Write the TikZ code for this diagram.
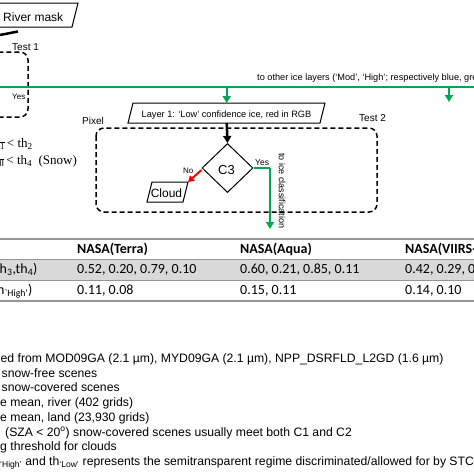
\documentclass[tikz,border=0pt]{standalone}
\usepackage{fontspec}
\setmainfont{Liberation Sans}
\newfontfamily\tabfont{Carlito}
\newfontfamily\serf{Liberation Serif}
\usetikzlibrary{shapes.geometric,arrows.meta}
\definecolor{grn}{RGB}{0,168,80}
\definecolor{rulegray}{RGB}{150,150,150}
\definecolor{rowgray}{RGB}{217,217,217}
\newcommand\fsz[1]{\fontsize{#1}{#1}\selectfont}
\begin{document}
\begin{tikzpicture}[x=1pt,y=-1pt,
  lbl/.style={inner sep=0pt, anchor=base west},
  lblc/.style={inner sep=0pt, anchor=base},
  shapebox/.style={draw=black, line width=1pt},
  dbox/.style={draw=black, line width=1.5pt, dash pattern=on 5pt off 3pt, rounded corners=8pt},
  garrow/.style={draw=grn, line width=2pt, -{Triangle[length=7pt,width=8pt]}},
  barrow/.style={draw=black, line width=2.5pt, -{Triangle[length=7pt,width=8pt]}},
  rarrow/.style={draw=red, line width=2pt, -{Triangle[length=6pt,width=7pt]}},
  trule/.style={draw=rulegray, line width=1.4pt},
  tabtxt/.style={inner sep=0pt, anchor=base west, font=\tabfont\fsz{14}},
  note/.style={inner sep=0pt, anchor=base west, font=\fsz{12.2}},
]
\useasboundingbox (0,0) rectangle (474,474);
\fill[white] (0,0) rectangle (474,474);

% River mask box (cropped)
\draw[shapebox] (-5,3) -- (78,3) -- (72,27) -- (-5,27);
\node[lbl, font=\fsz{12}] (river) at (3,21) {River mask};
\coordinate (rmA) at (0,35);
\coordinate (rmB) at (18,31.5);
\draw[black, line width=2.5pt] (rmA) -- (rmB);

% Test 1 box
\draw[dbox] (-20,52) rectangle (28,117);
\node[lbl, font=\fsz{10}] (test1) at (12,50.7) {Test 1};

% main green line
\coordinate (gL) at (-5,87);
\coordinate (gR) at (480,87);
\draw[grn, line width=2pt] (gL) -- (gR);
\node[lbl, font=\fsz{8}] (yes1) at (12,99.3) {Yes};
\node[lbl, font=\fsz{9.2}] (other) at (257,80) {to other ice layers (`Mod', `High'; respectively blue, gre};
\coordinate (g1) at (226.7,87);
\coordinate (g2) at (449,87);
\coordinate (g2t) at (449,102);

% Layer 1 box
\coordinate (layerT) at (226.7,103);
\coordinate (layerB) at (226.7,123);
\draw[shapebox] (128,123) -- (133,103) -- (325,103) -- (320,123) -- cycle;
\node[lblc, font=\fsz{9.2}] (layer) at (226.5,117) {Layer 1: `Low' confidence ice, red in RGB};
\draw[garrow] (g1) -- (layerT);
\draw[garrow] (g2) -- (g2t);

% Test 2 box
\draw[dbox] (96,128) rectangle (377,212);
\node[lbl, font=\fsz{10}] (pixel) at (82,124) {Pixel};
\node[lbl, font=\fsz{10}] (test2) at (359,121.7) {Test 2};

% C3 diamond
\node[diamond, draw=black, line width=1pt, minimum width=51pt, minimum height=49pt, inner sep=0pt] (c3) at (227.5,168) {};
\node[lblc, font=\fsz{13}] (c3t) at (226.5,174) {C3};
\draw[barrow] (layerB) -- (c3.north);

% Cloud box
\draw[shapebox] (147,202) -- (152,182) -- (188,182) -- (183,202) -- cycle;
\coordinate (cloudTR) at (188,182);
\node[lblc, font=\fsz{12}] (cloud) at (166.5,197.3) {Cloud};
\draw[rarrow] ([yshift=-2pt]c3.west) -- (cloudTR);
\node[lbl, font=\fsz{8}] (no) at (183,173.3) {No};

% Yes to ice classification
\coordinate (yc) at (270,168);
\coordinate (ye) at (270,229);
\draw[grn, line width=2pt] (c3.east) -- (yc);
\draw[garrow] (yc) -- (ye);
\node[lbl, font=\fsz{8.5}] (yes2) at (255,165) {Yes};
\node[inner sep=0pt, rotate=-90, font=\fsz{9}] (iceclass) at (282,191) {to ice classification};

% Formulas (cropped)
\node[lbl, font=\serf\fsz{13}] (f1) at (0,147.5) {\raisebox{-2pt}{$\overline{\scriptstyle 1}$}\,< th\textsubscript{2}};
\node[lbl, font=\serf\fsz{13}] (f2) at (-1,164.5) {\raisebox{-2pt}{$\overline{\scriptstyle\mathrm{II}}$}\,< th\textsubscript{4} \ (Snow)};

% Table
\fill[rowgray] (-5,259.5) rectangle (480,280.5);
\draw[trule] (-5,239) -- (480,239);
\draw[trule] (-5,259.5) -- (480,259.5);
\draw[draw=rulegray, line width=0.8pt] (-5,280.5) -- (480,280.5);
\draw[trule] (-5,301) -- (480,301);
\node[tabtxt, font=\tabfont\bfseries\fsz{14}] (h1) at (77,253.5) {NASA(Terra)};
\node[tabtxt, font=\tabfont\bfseries\fsz{14}] (h2) at (240,253.5) {NASA(Aqua)};
\node[tabtxt, font=\tabfont\bfseries\fsz{14}] (h3) at (405,253.5) {NASA(VIIRS-};
\node[tabtxt] (r1a) at (-0.5,273.5) {h\textsubscript{3},th\textsubscript{4})};
\node[tabtxt] (r1b) at (77,273.5) {0.52, 0.20, 0.79, 0.10};
\node[tabtxt] (r1c) at (240,273.5) {0.60, 0.21, 0.85, 0.11};
\node[tabtxt] (r1d) at (405,273.5) {0.42, 0.29, 0};
\node[tabtxt] (r2a) at (-3,294) {h\textsubscript{`High'})};
\node[tabtxt] (r2b) at (77,294) {0.11, 0.08};
\node[tabtxt] (r2c) at (240,294) {0.15, 0.11};
\node[tabtxt] (r2d) at (405,294) {0.14, 0.10};

% Notes
\node[note] (n1) at (0.5,362) {ed from MOD09GA (2.1 µm), MYD09GA (2.1 µm), NPP\_DSRFLD\_L2GD (1.6 µm)};
\node[note] (n2) at (1.5,377) {snow-free scenes};
\node[note] (n3) at (1.5,391.5) {snow-covered scenes};
\node[note] (n4) at (0,406.5) {e mean, river (402 grids)};
\node[note] (n5) at (0,421) {e mean, land (23,930 grids)};
\node[note] (n6) at (5,436) {(SZA < 20\textsuperscript{o}) snow-covered scenes usually meet both C1 and C2};
\node[note] (n7) at (0,450.5) {g threshold for clouds};
\node[note] (n8) at (0,465.5) {\textsubscript{`High'} and th\textsubscript{`Low'} represents the semitransparent regime discriminated/allowed for by STC};
\end{tikzpicture}
\end{document}
